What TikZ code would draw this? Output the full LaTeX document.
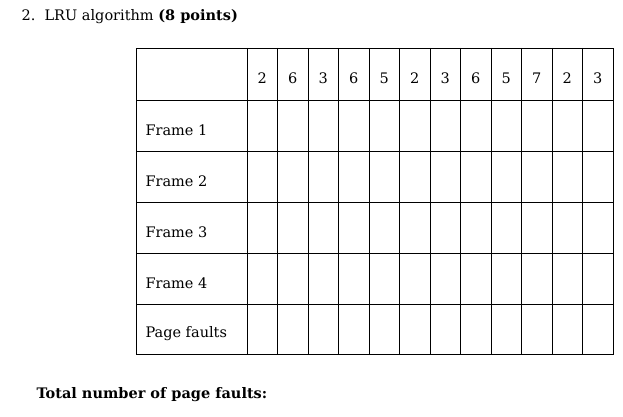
\documentclass[tikz,border=0pt]{standalone}
\usepackage{fontspec}
\setmainfont{DejaVu Serif}
\usetikzlibrary{positioning}
\tikzset{>=stealth}
\tikzset{
	cell/.style={font=\fontsize{14.5}{17}\selectfont},
	label/.style={font=\fontsize{14.5}{17}\selectfont,anchor=west},
}

\begin{document}
\begin{tikzpicture}[x=1pt,y=-1pt]
	\useasboundingbox (0,0) rectangle (623,417);
	\node[label] (title) at (18,17) {2.\ \ LRU algorithm \textbf{(8 points)}};
	
	% table grid
	\draw (136,48) rectangle (613,354);
	\foreach \y in {100,151,202,253,304}
		\draw (136,\y) -- (613,\y);
	\foreach \i in {0,...,11}
		\draw (247+\i*30.5,48) -- (247+\i*30.5,354);
	
	% reference string
	\foreach \p [count=\i from 0] in {2,6,3,6,5,2,3,6,5,7,2,3}
		\node[cell] (ref\i) at (262.25+\i*30.5,78) {\p};
	
	% row labels
	\foreach \r [count=\j from 0] in {Frame 1,Frame 2,Frame 3,Frame 4,Page faults}
		\node[cell,anchor=west] (row\j) at (142,130+\j*51) {\r};
	
	\node[label] (total) at (33,395) {\textbf{Total number of page faults:}};
\end{tikzpicture}
\end{document}
